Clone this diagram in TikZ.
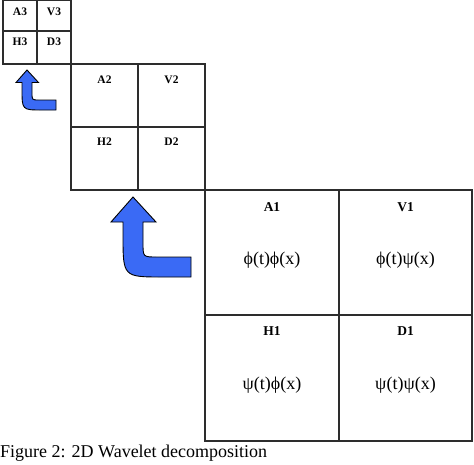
\documentclass[tikz,border=0pt]{standalone}
\usepackage{fontspec}
\setmainfont{Liberation Serif}
\definecolor{arrowblue}{RGB}{58,106,245}
\definecolor{gridgray}{RGB}{45,45,45}
\tikzset{
  band/.style={draw=gridgray,line width=1.3pt},
  lblone/.style={font=\bfseries\fontsize{13.5}{15}\selectfont},
  lbltwo/.style={font=\bfseries\fontsize{11.5}{13}\selectfont},
  basis/.style={font=\fontsize{18}{20}\selectfont},
  bluearrow/.pic={
    \draw[fill=arrowblue,line width=0.9pt,line join=miter](0,0)--(23,25)--(10,25)--(10,46)
      .. controls (10,60) .. (24,60)--(58,60)--(58,80)--(30,80)
      .. controls (-10,80) .. (-10,38)--(-10,25)--(-22,25)--cycle;
  }
}
\begin{document}
\begin{tikzpicture}[x=1pt,y=-1pt]
\useasboundingbox (0,0) rectangle (474,464);
%level 3 subbands
\draw[band](3,0) rectangle (71,64) (37,0)--(37,64) (3,31)--(71,31);
\node[lbltwo] (a3) at (20,11.5) {A3};
\node[lbltwo] (v3) at (54,11.5) {V3};
\node[lbltwo] (h3) at (20,41.5) {H3};
\node[lbltwo] (d3) at (54,41.5) {D3};
%level 2 subbands
\draw[band](71,64) rectangle (205,190) (138,64)--(138,190) (71,127)--(205,127);
\node[lbltwo] (a2) at (104.5,80) {A2};
\node[lbltwo] (v2) at (171.5,80) {V2};
\node[lbltwo] (h2) at (104.5,142) {H2};
\node[lbltwo] (d2) at (171.5,142) {D2};
%level 1 subbands
\draw[band](205,190) rectangle (472,441) (339,190)--(339,441) (205,315)--(472,315);
\node[lblone] (a1) at (272,207) {A1};
\node[lblone] (v1) at (405.5,207) {V1};
\node[lblone] (h1) at (272,331) {H1};
\node[lblone] (d1) at (405.5,331) {D1};
\node[basis] (fa1) at (272,260) {ϕ(t)ϕ(x)};
\node[basis] (fv1) at (405.5,260) {ϕ(t)ψ(x)};
\node[basis] (fh1) at (272,385) {ψ(t)ϕ(x)};
\node[basis] (fd1) at (405.5,385) {ψ(t)ψ(x)};
%arrows to the next level
\pic at (133,197) {bluearrow};
\pic[scale=0.5] at (27,70) {bluearrow};
%caption
\node[anchor=base west,inner sep=0pt,font=\fontsize{18}{20}\selectfont] (caption) at (0,457) {Figure 2: 2D Wavelet decomposition};
\end{tikzpicture}
\end{document}
